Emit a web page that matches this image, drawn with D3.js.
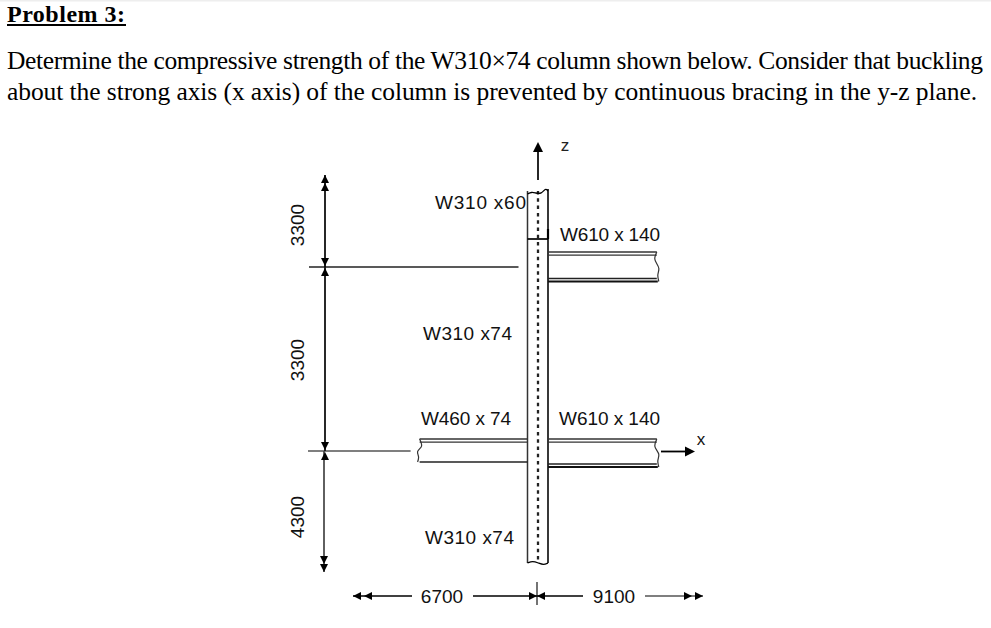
<!DOCTYPE html>
<html>
<head>
<meta charset="utf-8">
<script src="https://cdn.jsdelivr.net/npm/d3@7"></script>
<style>
  html, body { margin: 0; padding: 0; background: #fff; }
  svg { display: block; }
</style>
</head>
<body>
<div id="viz"></div>
<script>
// values (mm)
const title = "Problem 3:";
const problemLines = [
    "Determine the compressive strength of the W310\u00d774 column shown below. Consider that buckling",
    "about the strong axis (x axis) of the column is prevented by continuous bracing in the y-z plane."
];
const storeyHeights = [4300, 3300, 3300];
const baySpans = [6700, 9100];
const columnSections = ["W310 x 74", "W310 x 74", "W310 x 60"];
const leftBeamSections = ["W460 x 74"];
const rightBeamSections = ["W610 x 140", "W610 x 140"];
const axisNames = ["x", "z"];

const width = 991, height = 628;
const svg = d3.select("#viz").append("svg")
    .attr("width", width)
    .attr("height", height);

// drawing is not to scale, so both scales are piecewise
const levels = d3.cumsum(storeyHeights);
const y = d3.scaleLinear()
    .domain([0, ...levels])
    .range([572, 451, 267, 175]);
const x = d3.scaleLinear()
    .domain([-baySpans[0], 0, baySpans[1]])
    .range([353, 538, 703]);

const ink = "#000";
const sans = "'Liberation Sans', Arial, sans-serif";
const serif = "'Liberation Serif', 'Times New Roman', serif";

function line(x1, y1, x2, y2, w, color) {
    return svg.append("line")
        .attr("x1", x1).attr("y1", y1).attr("x2", x2).attr("y2", y2)
        .attr("stroke", color || ink)
        .attr("stroke-width", w || 1);
}

// small triangular arrow head, tip at (px, py), dir in degrees
function head(px, py, dir, size) {
    const s = size || 8;
    svg.append("path")
        .attr("d", `M0,0L${-s},${-s * 0.5}L${-s},${s * 0.5}Z`)
        .attr("transform", `translate(${px},${py}) rotate(${dir})`)
        .attr("fill", ink);
}

function label(text, px, py, opts) {
    const o = opts || {};
    const t = svg.append("text")
        .attr("x", px).attr("y", py)
        .attr("font-family", o.family || sans)
        .attr("font-size", o.size || 19)
        .attr("fill", o.color || "#111")
        .attr("text-anchor", o.anchor || "start")
        .text(text);
    if (o.len) t.attr("textLength", o.len).attr("lengthAdjust", "spacing");
    if (o.rotate) t.attr("transform", `rotate(${o.rotate},${px},${py})`);
    return t;
}

// --- heading text
svg.append("rect").attr("width", width).attr("height", 1.5).attr("fill", "#eeeeee");
label(title, 7, 21.5, { family: serif, size: 24, color: ink, len: 118 }).attr("font-weight", "bold");
line(7, 25, 126, 25, 2);
label(problemLines[0], 7, 69, { family: serif, size: 25.5, color: ink, len: 976 });
label(problemLines[1], 7, 100, { family: serif, size: 25.5, color: ink, len: 970 });

// --- column
const colL = x(0) - 10.5, colR = x(0) + 10;
const colTop = y(levels[2]) + 16, colBot = y(0) - 9;
line(colL, colTop, colL, colBot, 1.5, "#333");
line(colR, colTop - 2, colR, colBot, 1.8, "#222");
line(x(0), colTop, x(0), colBot, 2.3, "#222").attr("stroke-dasharray", "3.5,3.8");

const breakLine = d3.line().curve(d3.curveBasis);
const topWave = [[colL, colTop + 3], [colL + 4, colTop + 1], [colL + 8, colTop + 2], [colL + 14, colTop + 3], [colL + 18, colTop - 3], [colR, colTop]];
const botWave = [[colL, colBot], [colL + 5, colBot - 2], [colL + 11, colBot], [colL + 16, colBot + 2], [colR, colBot]];
[topWave, botWave].forEach(w => svg.append("path")
    .attr("d", breakLine(w))
    .attr("fill", "none").attr("stroke", ink).attr("stroke-width", 1.3));

// splice above the top beam
const spliceY = y(levels[1]) - 28;
line(colL, spliceY, colR, spliceY, 1.7);
line(colR, spliceY - 10, colR, spliceY, 2.2);

// --- beams, end is the free broken end, root sits on the column face
function beam(level, root, end, up, down, heavy) {
    const cy = y(level);
    const x1 = x(root), x2 = x(end);
    const bend = x2 > x1 ? 1 : -1;
    line(x1, cy - up, x2, cy - up, 1.3, "#333");
    line(x1, cy - up + 3.2, x2, cy - up + 3.2, 1.2, "#333");
    line(x1, cy + down - 1, x2, cy + down - 1, 1.5, "#222");
    if (heavy) line(x1, cy + down + 2, x2 + bend, cy + down + 2, 1.8, "#111");
    const top = cy - up, bot = cy + down + (heavy ? 2 : -1);
    const wave = [[x2, top], [x2 - bend * 2, top + 7], [x2 + bend * 2, top + (bot - top) * 0.55],
        [x2 + bend * 1, top + (bot - top) * 0.8], [x2 + bend * 2, bot]];
    svg.append("path").attr("d", d3.line().curve(d3.curveCatmullRom)(wave))
        .attr("fill", "none").attr("stroke", "#333").attr("stroke-width", 1.2);
}
const rightEnd = baySpans[1] * 0.72;
const leftEnd = -baySpans[0] * 0.64;
beam(levels[1], x.invert(colR), rightEnd, 15, 12.5, true);
beam(levels[0], x.invert(colR), rightEnd, 12, 14, true);
beam(levels[0], x.invert(colL), leftEnd, 12, 12, false);

// --- dimension lines and leaders
const dimX = 325;
line(dimX - 16, y(levels[1]), colL - 9, y(levels[1]), 1.6, "#222");
line(dimX - 17, y(levels[0]), x(leftEnd) - 9, y(levels[0]), 1.3, "#555");
line(dimX, y(levels[2]), dimX, y(levels[1]), 1.7);
line(dimX, y(levels[1]), dimX, y(levels[0]), 1.8, "#111");
line(dimX - 1, y(levels[0]), dimX - 1, y(0), 1.7, "#444");
[levels[2], levels[1], levels[0], 0].forEach((lv, i) => {
    const cy = y(lv);
    if (i === 0) { head(dimX, cy, -90); head(dimX, cy + 8, -90); }
    else if (i === 3) { head(dimX - 1, cy, 90); head(dimX - 1, cy - 8, 90); }
    else { head(dimX, cy - 1, 90); head(dimX, cy + 1, -90); }
});

// storey dimension labels
const storeyLabelY = [517, 360, 225];
storeyHeights.forEach((h, i) => {
    label(String(h), 304, storeyLabelY[i], { anchor: "middle", rotate: -90 });
});

// bay dimensions
const dimY = 596;
line(x(-baySpans[0]), dimY, 412, dimY, 1.4);
line(473, dimY, x(0) - 1, dimY, 1.4);
line(x(0) - 1, dimY, 583, dimY, 1.3);
line(645, dimY, x(baySpans[1]), dimY, 1.1);
line(x(0) - 1, 582, x(0) - 1, 605, 1.1);
head(x(-baySpans[0]), dimY, 180); head(x(-baySpans[0]) + 11, dimY, 180);
head(x(baySpans[1]), dimY, 0); head(x(baySpans[1]) - 11, dimY, 0);
head(x(0) - 1, dimY, 0); head(x(0) - 1, dimY, 180);
label(String(baySpans[0]), 442, 603, { anchor: "middle" });
label(String(baySpans[1]), 614, 603, { anchor: "middle" });

// --- section labels
const columnLabelPos = [[425, 544, 89], [423, 340, 89], [435, 209, 91]];
columnSections.forEach((s, i) => {
    const p = columnLabelPos[i];
    label(s.replace(" x ", " x"), p[0], p[1], { len: p[2] });
});
label(leftBeamSections[0], 421, 425, { len: 90 });
label(rightBeamSections[0], 560, 241, { len: 100 });
label(rightBeamSections[1], 559, 425, { len: 101 });

// --- global axes
line(x(0), 180, x(0), 148, 1.7);
head(x(0), 142, -90, 10);
label(axisNames[1], 565, 151, { size: 17, anchor: "middle", color: "#222" });
line(661, 451.5, 688, 451.5, 1.8);
head(695, 451.5, 0, 10);
label(axisNames[0], 701, 445, { size: 17, anchor: "middle" });
</script>
</body>
</html>
